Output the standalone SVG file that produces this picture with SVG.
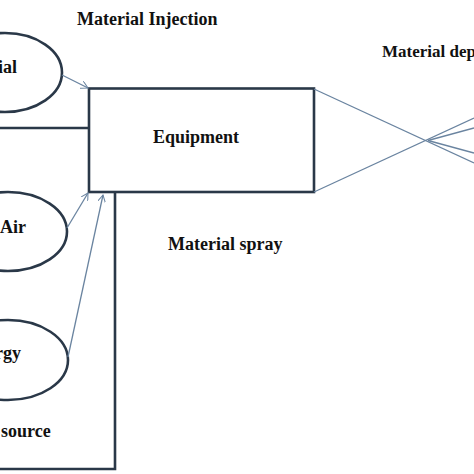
<svg xmlns="http://www.w3.org/2000/svg" width="474" height="474" viewBox="0 0 474 474">
<defs>
<style>
.node{fill:#fff;stroke:#2a3848;stroke-width:2.6}
.frame{fill:none;stroke:#2a3848;stroke-width:2.6}
.conn{fill:none;stroke:#6a84a0;stroke-width:1.3}
.lbl{font-family:"Liberation Serif","Times New Roman",serif;font-weight:bold;fill:#111;font-size:18px}
</style>
<marker id="arr" viewBox="0 0 10 10" refX="9" refY="5" markerWidth="8" markerHeight="8" markerUnits="userSpaceOnUse" orient="auto">
<path d="M0,0 L9,5 L0,10" fill="none" stroke="#6a84a0" stroke-width="1.3"/>
</marker>
</defs>
<rect width="474" height="474" fill="#fff"/>
<g id="frame">
<path class="frame" d="M0,128 H89 M115,192 V469 H0"/>
</g>
<g id="material">
<ellipse class="node" cx="5" cy="72.5" rx="57" ry="39.5"/>
<text class="lbl" x="-2" y="73">ial</text>
</g>
<g id="air">
<ellipse class="node" cx="8" cy="231.5" rx="59" ry="39.5"/>
<text class="lbl" x="0" y="233">Air</text>
</g>
<g id="energy">
<ellipse class="node" cx="8" cy="360" rx="60" ry="40"/>
<text class="lbl" x="-5" y="359">rgy</text>
</g>
<g id="source">
<text class="lbl" x="1" y="437">source</text>
</g>
<g id="equipment">
<rect class="node" x="89" y="88.5" width="225" height="103.5"/>
<text class="lbl" x="153" y="143">Equipment</text>
</g>
<g id="connectors">
<line class="conn" x1="62" y1="75" x2="88" y2="88" marker-end="url(#arr)"/>
<line class="conn" x1="67" y1="228" x2="88" y2="193" marker-end="url(#arr)"/>
<line class="conn" x1="68" y1="357" x2="103" y2="195" marker-end="url(#arr)"/>
<line class="conn" x1="314" y1="89" x2="474" y2="163"/>
<line class="conn" x1="314" y1="192" x2="474" y2="118"/>
<line class="conn" x1="428" y1="140.5" x2="474" y2="128"/>
<line class="conn" x1="428" y1="140.5" x2="474" y2="153"/>
</g>
<g id="labels">
<text class="lbl" x="77" y="25">Material Injection</text>
<text class="lbl" x="382" y="57" style="font-size:17px">Material dep</text>
<text class="lbl" x="168" y="250">Material spray</text>
</g>
</svg>
